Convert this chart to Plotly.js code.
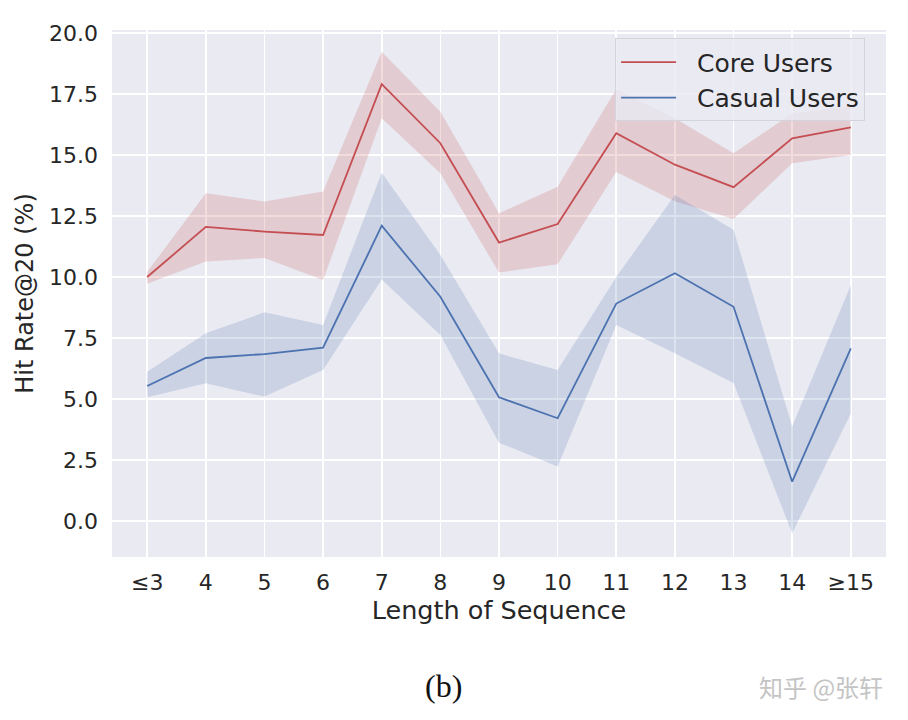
<!DOCTYPE html>
<html>
<head>
<meta charset="utf-8">
<script src="https://cdn.plot.ly/plotly-3.0.1.min.js"></script>
<style>html,body{margin:0;padding:0;background:#fff;} #chart{width:908px;height:720px;}</style>
</head>
<body>
<div id="chart"></div>
<script>
const categories = ['≤3','4','5','6','7','8','9','10','11','12','13','14','≥15'];
const coreMean  = [10.0, 12.05, 11.86, 11.72, 17.9, 15.48, 11.41, 12.17, 15.89, 14.6, 13.68, 15.68, 16.13];
const coreUpper = [10.2, 13.43, 13.09, 13.5, 19.23, 16.77, 12.61, 13.7, 17.7, 16.5, 15.07, 16.7, 17.0];
const coreLower = [9.72, 10.63, 10.78, 9.88, 16.5, 14.25, 10.18, 10.52, 14.3, 13.1, 12.38, 14.66, 15.0];
const casualMean  = [5.53, 6.68, 6.84, 7.1, 12.1, 9.19, 5.07, 4.21, 8.91, 10.15, 8.78, 1.61, 7.07];
const casualUpper = [6.12, 7.69, 8.55, 8.03, 14.27, 10.9, 6.87, 6.19, 10.0, 13.36, 11.93, 3.87, 9.67];
const casualLower = [5.07, 5.64, 5.1, 6.19, 9.9, 7.62, 3.21, 2.23, 8.03, 6.87, 5.65, -0.5, 4.41];
const seriesNames = ['Core Users', 'Casual Users'];
const yTicks = [0, 2.5, 5, 7.5, 10, 12.5, 15, 17.5, 20];
const yTickText = ['0.0','2.5','5.0','7.5','10.0','12.5','15.0','17.5','20.0'];

const RED = '#c44e52', BLUE = '#4c72b0';
const RED_FILL = 'rgba(196,78,82,0.2)', BLUE_FILL = 'rgba(76,114,176,0.2)';
const PAD = '\u00a0\u00a0';

const traces = [
  {x: categories, y: coreLower, type: 'scatter', mode: 'lines', line: {width: 0, color: RED}, showlegend: false, hoverinfo: 'skip'},
  {x: categories, y: coreUpper, type: 'scatter', mode: 'lines', line: {width: 0, color: RED}, fill: 'tonexty', fillcolor: RED_FILL, showlegend: false, hoverinfo: 'skip'},
  {x: categories, y: casualLower, type: 'scatter', mode: 'lines', line: {width: 0, color: BLUE}, showlegend: false, hoverinfo: 'skip'},
  {x: categories, y: casualUpper, type: 'scatter', mode: 'lines', line: {width: 0, color: BLUE}, fill: 'tonexty', fillcolor: BLUE_FILL, showlegend: false, hoverinfo: 'skip'},
  {x: categories, y: coreMean, type: 'scatter', mode: 'lines', name: PAD + seriesNames[0], line: {width: 1.8, color: RED}},
  {x: categories, y: casualMean, type: 'scatter', mode: 'lines', name: PAD + seriesNames[1], line: {width: 1.8, color: BLUE}}
];

const FONT = 'DejaVu Sans, sans-serif';
const layout = {
  width: 908, height: 720,
  margin: {l: 112, r: 22, t: 30, b: 163},
  paper_bgcolor: '#ffffff',
  plot_bgcolor: '#eaeaf2',
  font: {family: FONT, color: '#262626', size: 22},
  xaxis: {
    type: 'category', categoryorder: 'array', categoryarray: categories,
    range: [-0.6, 12.6], showgrid: true, gridcolor: '#ffffff', gridwidth: 1.6,
    zeroline: false, showline: false, ticks: '', ticklabelstandoff: 10,
    tickfont: {family: FONT, size: 22, color: '#262626'},
    title: {text: 'Length of Sequence', font: {family: FONT, size: 25.5, color: '#262626'}, standoff: 4}
  },
  yaxis: {
    range: [-1.475, 20.12], tickmode: 'array', tickvals: yTicks, ticktext: yTickText,
    showgrid: true, gridcolor: '#ffffff', gridwidth: 1.6, zeroline: false, showline: false,
    ticks: '', ticklabelstandoff: 13,
    tickfont: {family: FONT, size: 22, color: '#262626'},
    title: {text: 'Hit Rate@20 (%)', font: {family: FONT, size: 24, color: '#262626'}, standoff: 8}
  },
  legend: {
    x: 0.65, xanchor: 'left', y: 0.984, yanchor: 'top', traceorder: 'normal',
    bgcolor: 'rgba(234,234,242,0.8)', bordercolor: '#d4d4dc', borderwidth: 1,
    font: {family: FONT, size: 25, color: '#262626'},
    itemwidth: 55, tracegroupgap: 0
  },
  annotations: [
    {text: '(b)', xref: 'paper', yref: 'paper', x: (443-112)/774, y: (557-686)/527, xanchor: 'center', yanchor: 'middle', showarrow: false,
     font: {family: 'Liberation Serif, serif', size: 32, color: '#111111'}},
    {text: '知乎 @张轩', xref: 'paper', yref: 'paper', x: (885-112)/774, y: (557-686)/527, xanchor: 'right', yanchor: 'middle', showarrow: false,
     font: {family: 'Noto Sans CJK SC, sans-serif', size: 24, color: '#c4c4c4'}}
  ]
};

Plotly.newPlot('chart', traces, layout, {staticPlot: true, displayModeBar: false});
</script>
</body>
</html>
